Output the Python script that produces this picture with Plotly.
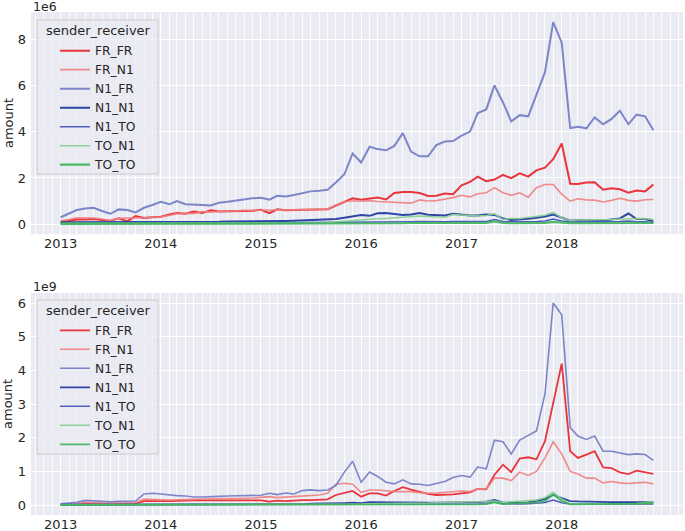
import numpy as np
import pandas as pd
import plotly.graph_objects as go

dates = pd.date_range("2013-01-01", periods=72, freq="MS")
series_names = ["FR_FR", "FR_N1", "N1_FR", "N1_N1", "N1_TO", "TO_N1", "TO_TO"]
year_ticks = pd.date_range("2013-01-01", periods=6, freq="YS")

# ---- top panel values (units of 1e6)
FR_FR_top = [0.08, 0.13, 0.20, 0.20, 0.22, 0.18, 0.15, 0.25, 0.12, 0.35, 0.27, 0.30,
             0.32, 0.42, 0.48, 0.45, 0.55, 0.48, 0.60, 0.55, 0.55, 0.56, 0.56, 0.58,
             0.62, 0.48, 0.64, 0.60, 0.61, 0.62, 0.62, 0.62, 0.65, 0.80, 0.95, 1.12,
             1.06, 1.10, 1.15, 1.07, 1.35, 1.39, 1.39, 1.35, 1.22, 1.23, 1.33, 1.30,
             1.68, 1.83, 2.06, 1.86, 1.93, 2.13, 1.99, 2.20, 2.06, 2.33, 2.45, 2.81,
             3.49, 1.75, 1.74, 1.80, 1.81, 1.49, 1.55, 1.51, 1.36, 1.46, 1.42, 1.72]
FR_N1_top = [0.15, 0.20, 0.28, 0.28, 0.27, 0.22, 0.15, 0.25, 0.25, 0.25, 0.28, 0.30,
             0.32, 0.38, 0.45, 0.48, 0.45, 0.55, 0.52, 0.55, 0.55, 0.57, 0.60, 0.60,
             0.60, 0.60, 0.60, 0.60, 0.62, 0.62, 0.63, 0.64, 0.66, 0.83, 0.98, 1.00,
             1.00, 1.02, 0.98, 0.96, 0.93, 0.91, 0.91, 1.05, 1.00, 1.02, 1.07, 1.15,
             1.25, 1.18, 1.32, 1.36, 1.58, 1.36, 1.25, 1.36, 1.17, 1.58, 1.72, 1.72,
             1.30, 1.00, 1.10, 1.05, 1.04, 0.96, 1.03, 1.12, 1.03, 1.00, 1.06, 1.07]
N1_FR_top = [0.30, 0.48, 0.61, 0.68, 0.71, 0.57, 0.45, 0.64, 0.61, 0.51, 0.71, 0.83,
             0.97, 0.86, 1.00, 0.86, 0.83, 0.83, 0.81, 0.93, 0.97, 1.03, 1.06, 1.12,
             1.14, 1.06, 1.23, 1.20, 1.26, 1.35, 1.42, 1.45, 1.49, 1.80, 2.16, 3.06,
             2.67, 3.35, 3.25, 3.20, 3.39, 3.94, 3.14, 2.94, 2.94, 3.42, 3.58, 3.60,
             3.83, 4.01, 4.81, 4.97, 6.01, 5.27, 4.45, 4.72, 4.67, 5.61, 6.58, 8.75,
             7.86, 4.16, 4.22, 4.15, 4.62, 4.33, 4.55, 4.91, 4.33, 4.74, 4.67, 4.07]
N1_N1_top = [0.08, 0.08, 0.07, 0.08, 0.08, 0.08, 0.07, 0.08, 0.09, 0.08, 0.09, 0.10,
             0.10, 0.10, 0.10, 0.10, 0.10, 0.10, 0.10, 0.10, 0.11, 0.11, 0.12, 0.12,
             0.12, 0.13, 0.13, 0.14, 0.15, 0.16, 0.18, 0.19, 0.20, 0.22, 0.28, 0.33,
             0.40, 0.36, 0.47, 0.48, 0.43, 0.40, 0.42, 0.48, 0.41, 0.38, 0.38, 0.45,
             0.40, 0.38, 0.38, 0.42, 0.40, 0.25, 0.18, 0.20, 0.23, 0.28, 0.33, 0.42,
             0.28, 0.15, 0.17, 0.17, 0.15, 0.15, 0.20, 0.25, 0.46, 0.22, 0.22, 0.12]
N1_TO_top = [0.03, 0.03, 0.04, 0.04, 0.04, 0.04, 0.03, 0.04, 0.04, 0.04, 0.05, 0.05,
             0.05, 0.05, 0.05, 0.05, 0.05, 0.05, 0.05, 0.05, 0.05, 0.05, 0.06, 0.06,
             0.06, 0.06, 0.06, 0.06, 0.06, 0.07, 0.07, 0.07, 0.07, 0.08, 0.08, 0.09,
             0.09, 0.09, 0.10, 0.10, 0.09, 0.10, 0.10, 0.11, 0.10, 0.10, 0.10, 0.11,
             0.11, 0.11, 0.10, 0.12, 0.20, 0.12, 0.10, 0.10, 0.10, 0.12, 0.14, 0.22,
             0.14, 0.09, 0.09, 0.09, 0.10, 0.10, 0.11, 0.12, 0.14, 0.10, 0.10, 0.06]
TO_N1_top = [0.04, 0.04, 0.05, 0.05, 0.05, 0.05, 0.04, 0.05, 0.05, 0.05, 0.05, 0.05,
             0.05, 0.05, 0.05, 0.05, 0.05, 0.05, 0.05, 0.05, 0.05, 0.05, 0.05, 0.05,
             0.05, 0.05, 0.05, 0.05, 0.05, 0.05, 0.05, 0.06, 0.06, 0.10, 0.13, 0.17,
             0.17, 0.20, 0.23, 0.25, 0.28, 0.30, 0.35, 0.35, 0.33, 0.30, 0.30, 0.42,
             0.40, 0.35, 0.35, 0.38, 0.45, 0.20, 0.25, 0.25, 0.30, 0.35, 0.39, 0.51,
             0.28, 0.15, 0.18, 0.18, 0.18, 0.18, 0.20, 0.22, 0.22, 0.22, 0.24, 0.20]
TO_TO_top = [0.01, 0.01, 0.01, 0.01, 0.01, 0.01, 0.01, 0.01, 0.01, 0.01, 0.01, 0.01,
             0.02, 0.02, 0.02, 0.02, 0.02, 0.02, 0.02, 0.02, 0.02, 0.02, 0.02, 0.02,
             0.02, 0.02, 0.02, 0.02, 0.02, 0.02, 0.02, 0.02, 0.02, 0.02, 0.03, 0.03,
             0.03, 0.03, 0.04, 0.04, 0.04, 0.04, 0.05, 0.05, 0.05, 0.05, 0.05, 0.06,
             0.06, 0.06, 0.06, 0.06, 0.12, 0.05, 0.04, 0.04, 0.04, 0.05, 0.06, 0.10,
             0.06, 0.04, 0.04, 0.04, 0.04, 0.04, 0.04, 0.04, 0.05, 0.04, 0.04, 0.05]

# ---- bottom panel values (units of 1e9)
FR_FR_bot = [0.01, 0.01, 0.02, 0.05, 0.04, 0.04, 0.04, 0.04, 0.05, 0.05, 0.12, 0.13,
             0.12, 0.12, 0.13, 0.13, 0.14, 0.14, 0.14, 0.14, 0.15, 0.15, 0.15, 0.14,
             0.14, 0.10, 0.13, 0.12, 0.14, 0.15, 0.15, 0.15, 0.17, 0.30, 0.36, 0.42,
             0.25, 0.35, 0.35, 0.28, 0.42, 0.53, 0.46, 0.40, 0.33, 0.30, 0.30, 0.32,
             0.35, 0.38, 0.48, 0.47, 0.90, 1.20, 0.98, 1.38, 1.42, 1.36, 1.90, 3.00,
             4.20, 1.60, 1.40, 1.50, 1.60, 1.12, 1.10, 0.97, 0.92, 1.02, 0.97, 0.93]
FR_N1_bot = [0.01, 0.02, 0.03, 0.08, 0.06, 0.05, 0.05, 0.05, 0.06, 0.07, 0.18, 0.18,
             0.16, 0.15, 0.15, 0.16, 0.17, 0.18, 0.18, 0.19, 0.19, 0.20, 0.20, 0.21,
             0.22, 0.25, 0.22, 0.24, 0.24, 0.28, 0.30, 0.30, 0.35, 0.62, 0.65, 0.62,
             0.38, 0.45, 0.45, 0.42, 0.40, 0.40, 0.40, 0.37, 0.35, 0.36, 0.38, 0.42,
             0.42, 0.40, 0.48, 0.48, 0.80, 0.80, 0.73, 0.98, 0.88, 1.00, 1.40, 1.88,
             1.52, 1.00, 0.92, 0.80, 0.80, 0.66, 0.70, 0.66, 0.64, 0.66, 0.68, 0.63]
N1_FR_bot = [0.04, 0.05, 0.08, 0.14, 0.12, 0.10, 0.10, 0.11, 0.11, 0.12, 0.33, 0.35,
             0.33, 0.30, 0.28, 0.27, 0.24, 0.24, 0.26, 0.26, 0.27, 0.28, 0.28, 0.29,
             0.29, 0.35, 0.31, 0.36, 0.33, 0.43, 0.45, 0.43, 0.45, 0.58, 0.98, 1.30,
             0.68, 0.98, 0.85, 0.68, 0.63, 0.75, 0.63, 0.62, 0.58, 0.64, 0.70, 0.82,
             0.88, 0.83, 1.13, 1.08, 1.93, 1.88, 1.52, 1.93, 2.06, 2.20, 3.30, 6.00,
             5.65, 2.30, 2.05, 1.95, 2.05, 1.60, 1.60, 1.55, 1.50, 1.52, 1.50, 1.33]
N1_N1_bot = [0.01, 0.01, 0.01, 0.02, 0.02, 0.02, 0.02, 0.02, 0.02, 0.02, 0.02, 0.02,
             0.02, 0.02, 0.02, 0.02, 0.02, 0.02, 0.02, 0.02, 0.02, 0.02, 0.02, 0.02,
             0.02, 0.02, 0.02, 0.03, 0.03, 0.03, 0.04, 0.04, 0.05, 0.05, 0.06, 0.07,
             0.06, 0.09, 0.08, 0.07, 0.08, 0.08, 0.07, 0.07, 0.07, 0.07, 0.07, 0.08,
             0.08, 0.08, 0.09, 0.10, 0.15, 0.07, 0.06, 0.07, 0.08, 0.12, 0.18, 0.30,
             0.22, 0.12, 0.11, 0.10, 0.10, 0.09, 0.09, 0.09, 0.09, 0.09, 0.09, 0.09]
N1_TO_bot = [0.01, 0.01, 0.01, 0.01, 0.01, 0.01, 0.01, 0.01, 0.01, 0.01, 0.01, 0.01,
             0.01, 0.01, 0.01, 0.01, 0.01, 0.01, 0.01, 0.01, 0.01, 0.01, 0.01, 0.01,
             0.01, 0.01, 0.01, 0.01, 0.02, 0.02, 0.02, 0.02, 0.02, 0.02, 0.02, 0.03,
             0.02, 0.03, 0.03, 0.03, 0.03, 0.03, 0.03, 0.03, 0.03, 0.03, 0.03, 0.03,
             0.03, 0.03, 0.03, 0.04, 0.10, 0.04, 0.03, 0.03, 0.04, 0.05, 0.08, 0.15,
             0.07, 0.03, 0.03, 0.03, 0.03, 0.03, 0.03, 0.03, 0.03, 0.03, 0.04, 0.03]
TO_N1_bot = [0.01, 0.01, 0.01, 0.01, 0.01, 0.01, 0.01, 0.01, 0.01, 0.01, 0.01, 0.01,
             0.01, 0.01, 0.01, 0.01, 0.01, 0.01, 0.01, 0.01, 0.01, 0.01, 0.01, 0.01,
             0.01, 0.01, 0.01, 0.01, 0.01, 0.02, 0.02, 0.02, 0.02, 0.02, 0.03, 0.03,
             0.03, 0.04, 0.04, 0.04, 0.05, 0.05, 0.05, 0.06, 0.06, 0.07, 0.08, 0.10,
             0.10, 0.10, 0.10, 0.11, 0.12, 0.08, 0.10, 0.10, 0.12, 0.15, 0.22, 0.38,
             0.18, 0.04, 0.03, 0.03, 0.03, 0.03, 0.03, 0.03, 0.04, 0.05, 0.08, 0.10]
TO_TO_bot = [0.005, 0.005, 0.005, 0.005, 0.005, 0.005, 0.005, 0.005, 0.005, 0.005, 0.005, 0.005,
             0.005, 0.005, 0.005, 0.005, 0.005, 0.005, 0.005, 0.005, 0.005, 0.005, 0.005, 0.005,
             0.01, 0.01, 0.01, 0.01, 0.01, 0.01, 0.01, 0.01, 0.01, 0.01, 0.01, 0.01,
             0.01, 0.01, 0.01, 0.01, 0.01, 0.01, 0.01, 0.01, 0.01, 0.02, 0.02, 0.02,
             0.02, 0.02, 0.02, 0.03, 0.08, 0.03, 0.05, 0.06, 0.07, 0.08, 0.12, 0.32,
             0.12, 0.02, 0.02, 0.02, 0.02, 0.02, 0.02, 0.02, 0.03, 0.04, 0.06, 0.05]

top_values = [FR_FR_top, FR_N1_top, N1_FR_top, N1_N1_top, N1_TO_top, TO_N1_top, TO_TO_top]
bot_values = [FR_FR_bot, FR_N1_bot, N1_FR_bot, N1_N1_bot, N1_TO_bot, TO_N1_bot, TO_TO_bot]
top_scale, bot_scale = 1e6, 1e9
top_ticks = [0, 2, 4, 6, 8]
bot_ticks = [0, 1, 2, 3, 4, 5, 6]

colors = ["rgba(232,32,38,0.9)", "rgba(240,128,128,0.9)", "rgba(118,128,196,0.95)",
          "rgba(36,60,160,0.95)", "rgba(64,80,180,0.9)", "rgba(136,208,148,0.95)",
          "rgba(60,180,90,0.9)"]
widths_top = [2.0, 1.6, 2.0, 2.0, 1.5, 1.5, 2.2]
widths_bot = [1.8, 1.6, 1.6, 1.8, 1.5, 1.5, 1.8]

FONT = "DejaVu Sans"
TXT = "#262626"
BG = "#eaeaf2"

fig = go.Figure()
for name, vals, c, w in zip(series_names, top_values, colors, widths_top):
    fig.add_trace(go.Scatter(x=dates, y=np.array(vals) * top_scale, mode="lines", name=name,
                             line=dict(color=c, width=w), xaxis="x", yaxis="y", legend="legend"))
for name, vals, c, w in zip(series_names, bot_values, colors, widths_bot):
    fig.add_trace(go.Scatter(x=dates, y=np.array(vals) * bot_scale, mode="lines", name=name,
                             line=dict(color=c, width=w), xaxis="x2", yaxis="y2", legend="legend2"))

# matplotlib-like 5% margins
span = dates[-1] - dates[0]
xr = [dates[0] - span * 0.05, dates[-1] + span * 0.05]

def yr(vals, scale):
    mn = min(min(v) for v in vals) * scale
    mx = max(max(v) for v in vals) * scale
    d = mx - mn
    return [mn - 0.05 * d, mx + 0.05 * d]

xcommon = dict(type="date", range=xr, showgrid=True, gridcolor="white", gridwidth=1.2,
               tickvals=list(year_ticks), ticktext=[str(d.year) for d in year_ticks],
               ticks="", zeroline=False, automargin=False,
               showline=False, tickfont=dict(family=FONT, size=13, color=TXT),
               minor=dict(dtick="M1", tick0="2013-01-01", showgrid=True,
                          gridcolor="rgba(255,255,255,0.85)", gridwidth=0.6))
ycommon = dict(showgrid=True, gridcolor="white", gridwidth=1.2, zeroline=False, showline=False,
               ticks="", automargin=False, tickfont=dict(family=FONT, size=13, color=TXT),
               ticklabelstandoff=4)

top_dom = [0.5586, 1.0]
bot_dom = [0.0, 0.4414]

fig.update_layout(
    width=685, height=531,
    margin=dict(l=31, r=2, t=12, b=16),
    paper_bgcolor="white", plot_bgcolor=BG,
    font=dict(family=FONT, color=TXT),
    xaxis=dict(**xcommon, domain=[0, 1], anchor="y"),
    yaxis=dict(**ycommon, domain=top_dom, anchor="x", range=yr(top_values, top_scale),
               tickvals=[t * top_scale for t in top_ticks], ticktext=[str(t) for t in top_ticks]),
    xaxis2=dict(**xcommon, domain=[0, 1], anchor="y2"),
    yaxis2=dict(**ycommon, domain=bot_dom, anchor="x2", range=yr(bot_values, bot_scale),
                tickvals=[t * bot_scale for t in bot_ticks], ticktext=[str(t) for t in bot_ticks]),
    legend=dict(x=0.0368, y=0.952, xanchor="left", yanchor="top", bgcolor="rgba(0,0,0,0)",
                borderwidth=0, font=dict(family=FONT, size=12.3, color=TXT)),
    legend2=dict(x=0.0368, y=0.396, xanchor="left", yanchor="top", bgcolor="rgba(0,0,0,0)",
                 borderwidth=0, font=dict(family=FONT, size=12.3, color=TXT)),
    showlegend=True,
)

# legend frames (matplotlib style)
PLOT_H = 531 - 12 - 16
def py(pix):
    return (531 - 16 - pix) / PLOT_H
def px(pix):
    return (pix - 31) / (685 - 31 - 2)

for top_pix, bot_pix in [(20, 174), (300, 454)]:
    fig.add_shape(type="rect", xref="paper", yref="paper", x0=px(37), x1=px(158),
                  y0=py(bot_pix), y1=py(top_pix), fillcolor="rgba(234,234,242,0.8)",
                  line=dict(color="#cccccc", width=1), layer="above")

for ty in [30, 310]:
    fig.add_annotation(text="sender_receiver", xref="paper", yref="paper", x=px(98), y=py(ty),
                       xanchor="center", yanchor="middle", showarrow=False,
                       font=dict(family=FONT, size=13, color=TXT))

# offset texts and axis titles
fig.add_annotation(text="1e6", xref="paper", yref="paper", x=0, y=top_dom[1], xanchor="left",
                   yanchor="bottom", showarrow=False, font=dict(family=FONT, size=12.5, color=TXT), yshift=-4)
fig.add_annotation(text="1e9", xref="paper", yref="paper", x=0, y=bot_dom[1], xanchor="left",
                   yanchor="bottom", showarrow=False, font=dict(family=FONT, size=12.5, color=TXT), yshift=-3)
for dom in [top_dom, bot_dom]:
    fig.add_annotation(text="amount", xref="paper", yref="paper", x=0, y=(dom[0] + dom[1]) / 2,
                       xanchor="center", yanchor="middle", xshift=-23, textangle=-90, showarrow=False,
                       font=dict(family=FONT, size=13, color=TXT))

fig.write_html("out.html", config={"displayModeBar": False},
               post_script="document.body.style.margin='0px';")
